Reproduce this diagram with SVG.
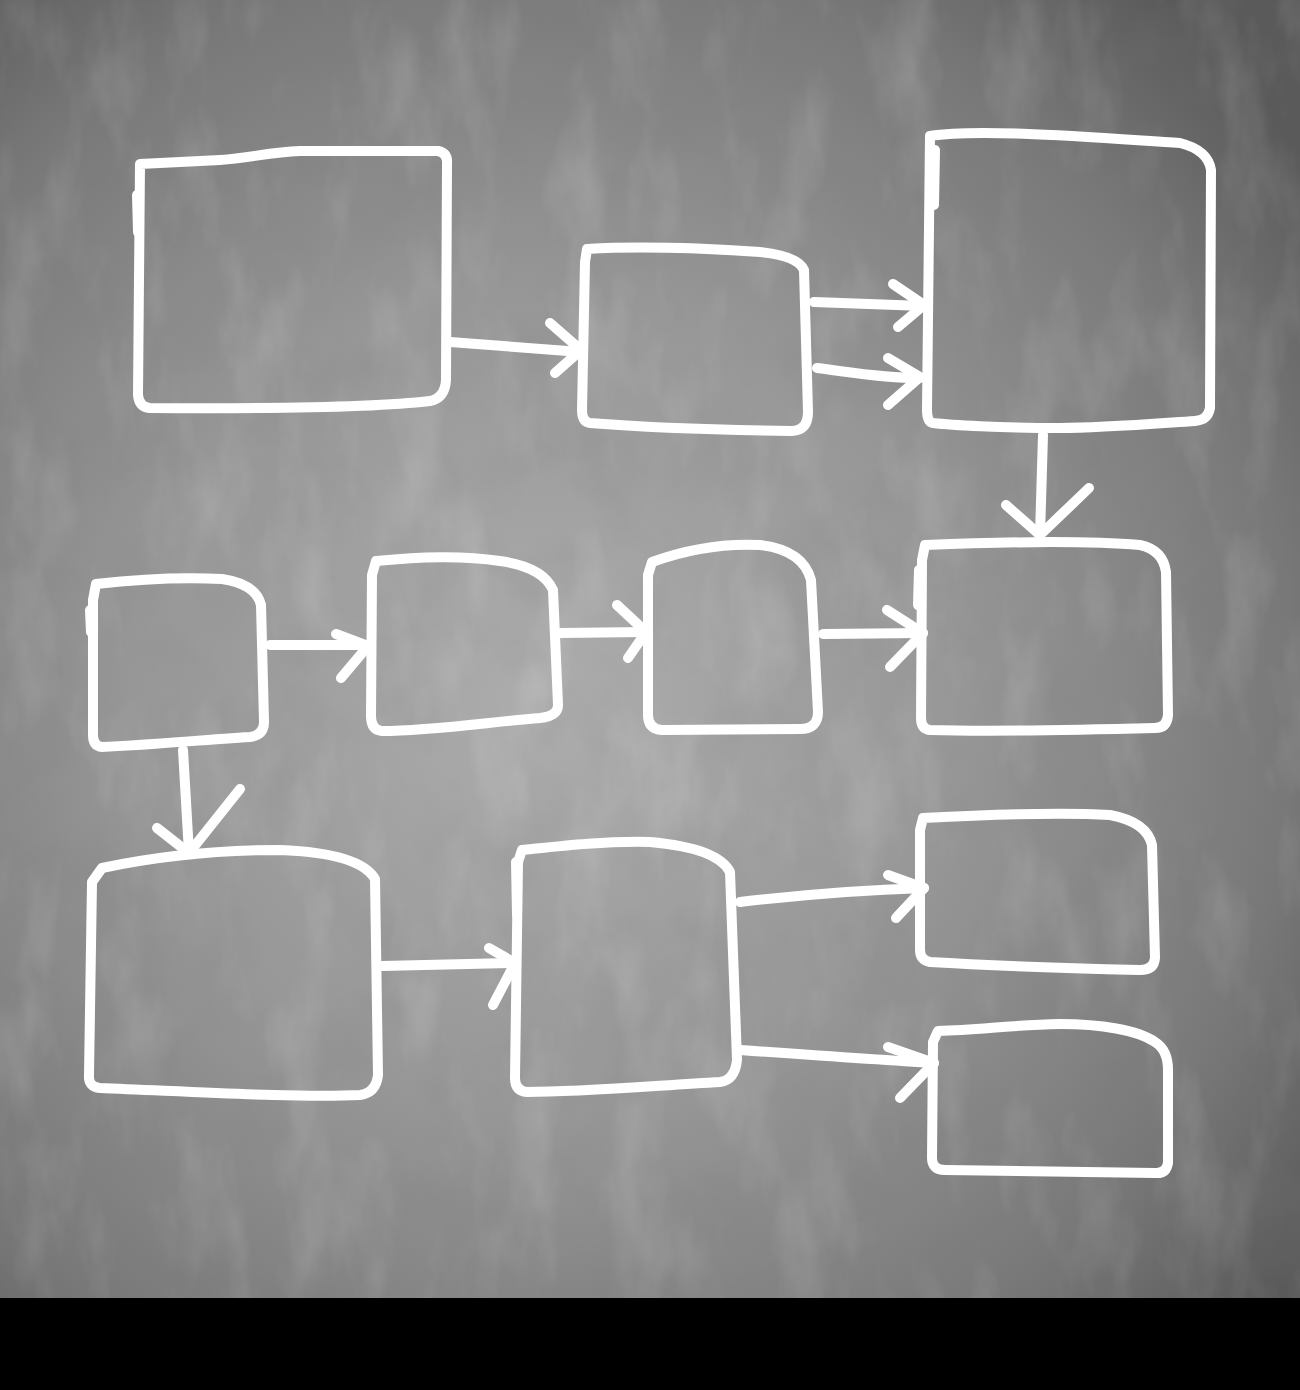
<svg xmlns="http://www.w3.org/2000/svg" width="1300" height="1390" viewBox="0 0 1300 1390">
<style>
.ink{fill:none;stroke:#ffffff;stroke-width:10;stroke-linecap:round;stroke-linejoin:round}
</style>
<defs>
<radialGradient id="bg" cx="0.42" cy="0.54" r="0.72">
<stop offset="0" stop-color="#adadad"/>
<stop offset="0.45" stop-color="#969696"/>
<stop offset="0.8" stop-color="#787878"/>
<stop offset="1" stop-color="#5a5a5a"/>
</radialGradient>
<filter id="texL" x="0" y="0" width="100%" height="100%">
<feTurbulence type="fractalNoise" baseFrequency="0.018 0.007" numOctaves="4" seed="7"/>
<feColorMatrix type="matrix" values="0 0 0 0 1  0 0 0 0 1  0 0 0 0 1  1.6 0 0 0 -0.78"/>
</filter>
<filter id="texD" x="0" y="0" width="100%" height="100%">
<feTurbulence type="fractalNoise" baseFrequency="0.012 0.012" numOctaves="4" seed="21"/>
<feColorMatrix type="matrix" values="0 0 0 0 0.2  0 0 0 0 0.2  0 0 0 0 0.2  0 1.6 0 0 -0.75"/>
</filter>
</defs>
<rect x="0" y="0" width="1300" height="1300" fill="url(#bg)"/>
<rect x="0" y="0" width="1300" height="1300" filter="url(#texL)" opacity="0.22"/>
<rect x="0" y="0" width="1300" height="1300" filter="url(#texD)" opacity="0.25"/>
<rect x="0" y="1298" width="1300" height="92" fill="#000000"/>

<g id="node-1"><path class="ink" d="M140,164 L220,160 C250,158 270,152 300,151 L438,151 Q448,153 447,164 L446,380 Q445,398 430,401 C380,407 300,409 150,408 Q139,407 138,395 L140,164 Z"/><path class="ink" d="M137,195 L138,232"/></g>
<g id="node-2"><path class="ink" d="M587,249 C640,246 700,248 760,252 Q798,256 804,270 L808,412 Q808,430 792,431 C720,430 640,427 590,423 Q582,422 582,410 L585,262 Z"/></g>
<g id="node-3"><path class="ink" d="M930,136 C980,128 1100,138 1180,143 Q1208,150 1211,170 L1210,408 Q1208,420 1195,421 C1150,424 1100,428 1060,428 C1000,428 950,425 933,423 Q927,422 927,410 L930,136 Z"/><path class="ink" d="M935,150 L934,205"/></g>
<g id="node-4"><path class="ink" d="M925,545 C1000,542 1080,540 1140,545 Q1163,550 1166,572 L1168,715 Q1167,728 1155,728 C1080,730 1000,732 930,730 Q921,729 921,718 L922,560 Z"/><path class="ink" d="M919,570 L918,605"/></g>
<g id="node-5"><path class="ink" d="M96,584 C140,579 180,577 222,579 Q256,584 261,605 L264,722 Q264,735 250,737 C200,740 150,745 102,747 Q93,746 93,735 L93,600 Z"/><path class="ink" d="M90,610 L91,632"/></g>
<g id="node-6"><path class="ink" d="M376,561 C420,557 460,555 500,561 Q543,567 553,590 L558,705 Q558,716 540,718 C490,722 430,731 382,731 Q371,730 371,716 L372,575 Z"/></g>
<g id="node-7"><path class="ink" d="M652,562 C685,550 720,543 760,545 Q803,550 811,580 L818,712 Q818,729 800,729 L662,730 Q648,729 648,715 L648,575 Z"/></g>
<g id="node-8"><path class="ink" d="M102,868 C140,860 200,850 280,850 Q360,853 375,879 L378,1075 Q376,1093 360,1095 C300,1098 200,1092 100,1088 Q88,1087 89,1075 L92,882 Z"/></g>
<g id="node-9"><path class="ink" d="M522,850 C560,846 600,841 650,842 Q718,848 730,872 L737,1060 Q735,1080 720,1082 C650,1086 580,1092 527,1092 Q515,1091 515,1078 L518,862 Z"/><path class="ink" d="M516,862 L517,915"/></g>
<g id="node-10"><path class="ink" d="M923,818 C980,815 1060,812 1110,815 Q1147,822 1152,845 L1155,958 Q1154,970 1140,970 C1060,968 980,965 930,962 Q920,960 920,950 L920,830 Z"/></g>
<g id="node-11"><path class="ink" d="M938,1031 C980,1030 1010,1025 1060,1024 C1100,1024 1138,1030 1155,1042 Q1168,1050 1168,1070 L1168,1163 Q1166,1174 1155,1173 L945,1170 Q932,1170 932,1158 L933,1042 Z"/></g>

<g id="connectors">
<path class="ink" d="M450,342 L581,352"/><path class="ink" d="M550,323 L581,350 L555,373"/>
<path class="ink" d="M814,302 L924,306"/><path class="ink" d="M893,284 L924,305 L898,327"/>
<path class="ink" d="M817,368 C850,372 880,378 920,378"/><path class="ink" d="M888,358 L920,377 L888,405"/>
<path class="ink" d="M1043,435 L1040,535"/><path class="ink" d="M1006,505 L1040,535 L1089,488"/>
<path class="ink" d="M270,645 L368,645"/><path class="ink" d="M336,634 L368,646 L341,678"/>
<path class="ink" d="M560,633 L646,632"/><path class="ink" d="M617,605 L646,632 L628,658"/>
<path class="ink" d="M823,634 L923,633"/><path class="ink" d="M887,610 L923,633 L890,667"/>
<path class="ink" d="M183,750 L189,853"/><path class="ink" d="M157,828 L189,853 L240,789"/>
<path class="ink" d="M382,966 L515,963"/><path class="ink" d="M489,948 L515,963 L493,1005"/>
<path class="ink" d="M740,902 C800,895 860,890 924,888"/><path class="ink" d="M888,875 L924,888 L896,918"/>
<path class="ink" d="M740,1050 C810,1055 880,1060 934,1063"/><path class="ink" d="M888,1047 L934,1063 L900,1098"/>
</g>
</svg>
